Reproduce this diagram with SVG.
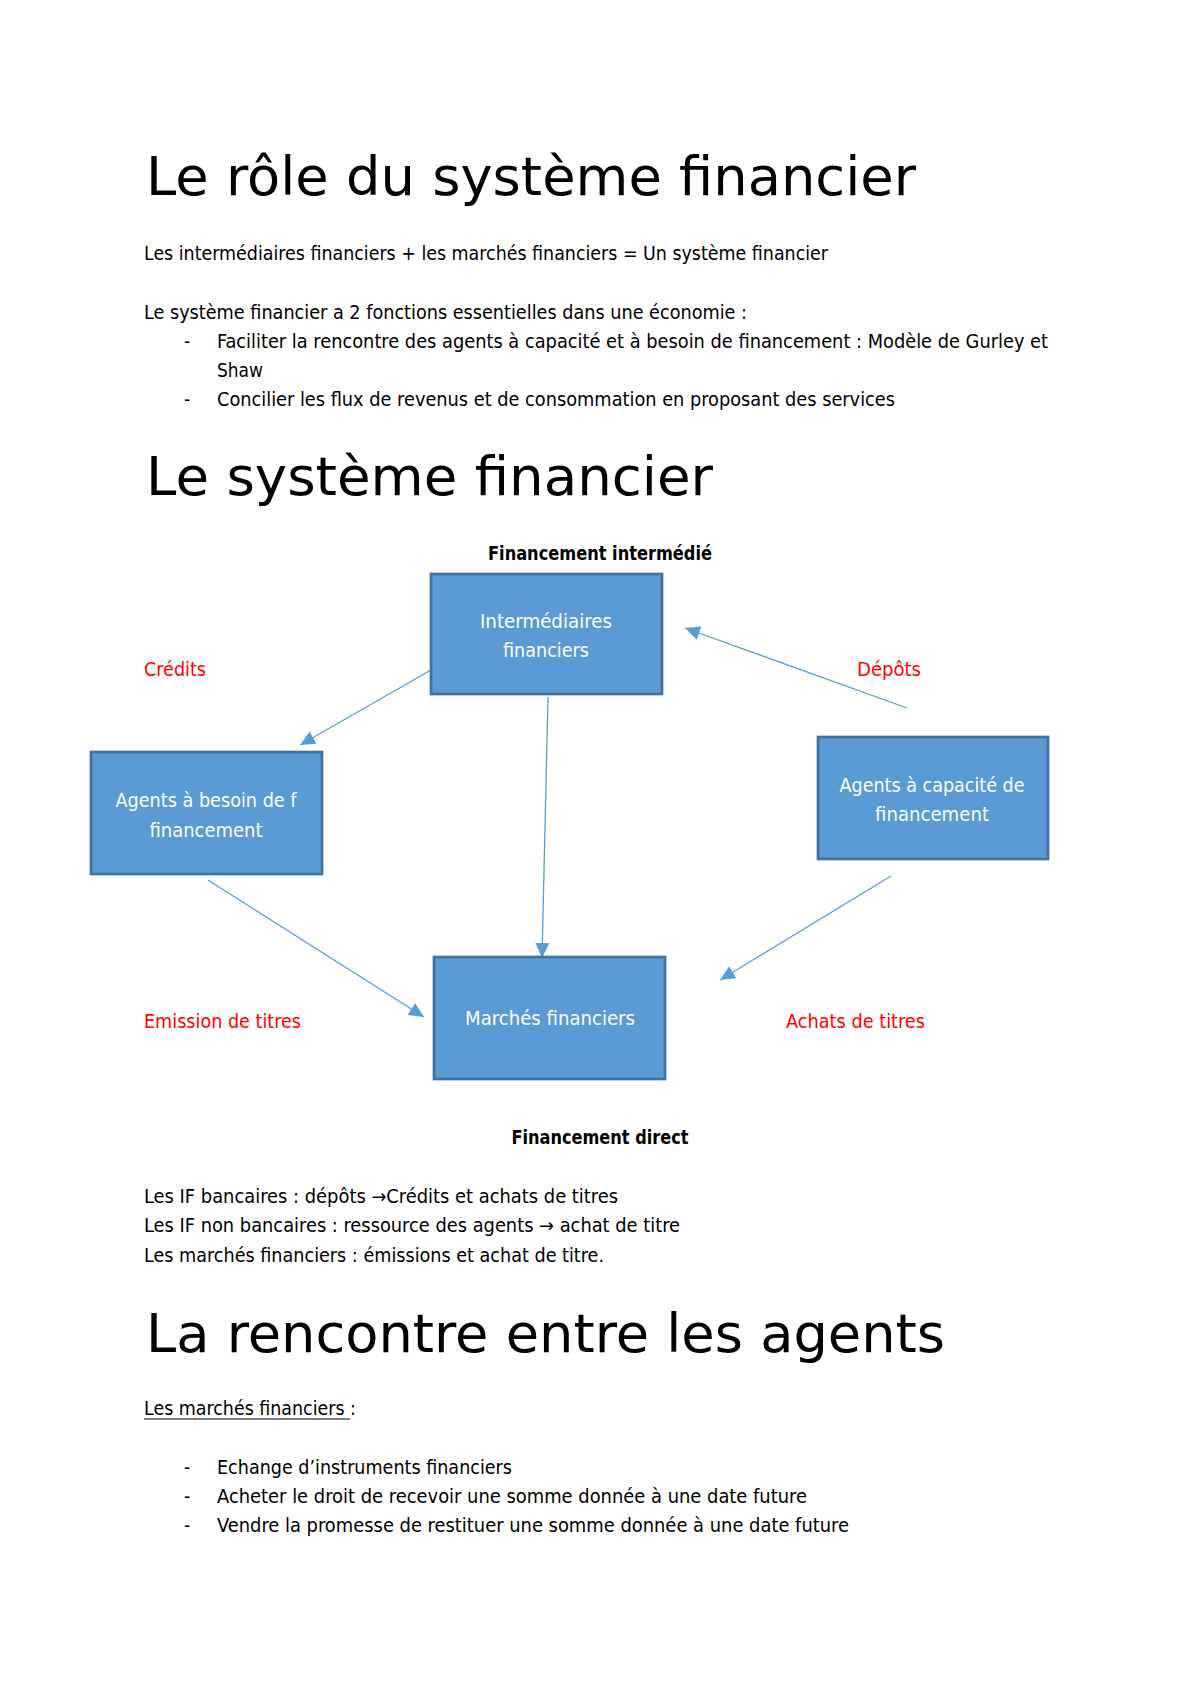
<svg xmlns="http://www.w3.org/2000/svg" width="1200" height="1698" viewBox="0 0 1200 1698">
<style>
.t{font-family:"DejaVu Sans",sans-serif;font-size:54px;fill:#000}
.b{font-family:"DejaVu Sans Condensed","DejaVu Sans",sans-serif;font-size:19px;fill:#000}
.bb{font-family:"DejaVu Sans Condensed","DejaVu Sans",sans-serif;font-size:19px;font-weight:bold;fill:#000}
.r{font-family:"DejaVu Sans Condensed","DejaVu Sans",sans-serif;font-size:19px;fill:#ff0000}
.w{font-family:"DejaVu Sans Condensed","DejaVu Sans",sans-serif;font-size:19px;fill:#ffffff}
.box{fill:#5b9bd5;stroke:#41719c;stroke-width:2.7}
.c{stroke:#5b9bd5;stroke-width:1.3;fill:none;marker-end:url(#ah)}
</style>
<defs>
<marker id="ah" markerUnits="userSpaceOnUse" markerWidth="18" markerHeight="16" refX="15" refY="7" orient="auto">
<path d="M0,0 L15,7 L0,14 Z" fill="#5b9bd5"/>
</marker>
</defs>
<rect width="1200" height="1698" fill="#ffffff"/>

<text class="t" x="146" y="195" textLength="770" lengthAdjust="spacingAndGlyphs">Le rôle du système financier</text>
<text class="b" x="144" y="260" textLength="684" lengthAdjust="spacingAndGlyphs">Les intermédiaires financiers + les marchés financiers = Un système financier</text>
<text class="b" x="144" y="319" textLength="603" lengthAdjust="spacingAndGlyphs">Le système financier a 2 fonctions essentielles dans une économie :</text>
<text class="b" x="184" y="348">-</text>
<text class="b" x="217" y="348" textLength="831" lengthAdjust="spacingAndGlyphs">Faciliter la rencontre des agents à capacité et à besoin de financement : Modèle de Gurley et</text>
<text class="b" x="217" y="377" textLength="46" lengthAdjust="spacingAndGlyphs">Shaw</text>
<text class="b" x="184" y="406">-</text>
<text class="b" x="217" y="406" textLength="678" lengthAdjust="spacingAndGlyphs">Concilier les flux de revenus et de consommation en proposant des services</text>

<text class="t" x="146" y="495" textLength="567" lengthAdjust="spacingAndGlyphs">Le système financier</text>

<text class="bb" x="600" y="560" text-anchor="middle" textLength="224" lengthAdjust="spacingAndGlyphs">Financement intermédié</text>
<text class="r" x="144" y="676" textLength="62" lengthAdjust="spacingAndGlyphs">Crédits</text>
<text class="r" x="857" y="676" textLength="64" lengthAdjust="spacingAndGlyphs">Dépôts</text>
<text class="r" x="144" y="1028" textLength="157" lengthAdjust="spacingAndGlyphs">Emission de titres</text>
<text class="r" x="786" y="1028" textLength="139" lengthAdjust="spacingAndGlyphs">Achats de titres</text>
<text class="bb" x="600" y="1144" text-anchor="middle" textLength="177" lengthAdjust="spacingAndGlyphs">Financement direct</text>

<g id="connectors">
<line class="c" x1="431" y1="670" x2="300" y2="745"/>
<line class="c" x1="907" y1="708" x2="685" y2="628"/>
<line class="c" x1="548" y1="697" x2="542" y2="958"/>
<line class="c" x1="208" y1="880" x2="424" y2="1017"/>
<line class="c" x1="891" y1="876" x2="720" y2="980"/>
</g>

<g id="node-intermediaires">
<rect class="box" x="431" y="574" width="231" height="120"/>
<text class="w" x="546" y="628" text-anchor="middle" textLength="132" lengthAdjust="spacingAndGlyphs">Intermédiaires</text>
<text class="w" x="546" y="657" text-anchor="middle" textLength="86" lengthAdjust="spacingAndGlyphs">financiers</text>
</g>
<g id="node-besoin">
<rect class="box" x="91" y="752" width="231" height="122"/>
<text class="w" x="206" y="807" text-anchor="middle" textLength="181" lengthAdjust="spacingAndGlyphs">Agents à besoin de f</text>
<text class="w" x="206" y="837" text-anchor="middle" textLength="113" lengthAdjust="spacingAndGlyphs">financement</text>
</g>
<g id="node-capacite">
<rect class="box" x="818" y="737" width="230" height="122"/>
<text class="w" x="932" y="792" text-anchor="middle" textLength="185" lengthAdjust="spacingAndGlyphs">Agents à capacité de</text>
<text class="w" x="932" y="821" text-anchor="middle" textLength="114" lengthAdjust="spacingAndGlyphs">financement</text>
</g>
<g id="node-marches">
<rect class="box" x="434" y="957" width="231" height="122"/>
<text class="w" x="550" y="1025" text-anchor="middle" textLength="170" lengthAdjust="spacingAndGlyphs">Marchés financiers</text>
</g>

<text class="b" x="144" y="1203" textLength="474" lengthAdjust="spacingAndGlyphs">Les IF bancaires : dépôts →Crédits et achats de titres</text>
<text class="b" x="144" y="1232" textLength="536" lengthAdjust="spacingAndGlyphs">Les IF non bancaires : ressource des agents → achat de titre</text>
<text class="b" x="144" y="1262" textLength="460" lengthAdjust="spacingAndGlyphs">Les marchés financiers : émissions et achat de titre.</text>

<text class="t" x="146" y="1352" textLength="799" lengthAdjust="spacingAndGlyphs">La rencontre entre les agents</text>

<text class="b" x="144" y="1415" textLength="212" lengthAdjust="spacingAndGlyphs">Les marchés financiers :</text>
<line x1="144" y1="1419" x2="350" y2="1419" stroke="#000" stroke-width="1.2"/>
<text class="b" x="184" y="1474">-</text>
<text class="b" x="217" y="1474" textLength="295" lengthAdjust="spacingAndGlyphs">Echange d’instruments financiers</text>
<text class="b" x="184" y="1503">-</text>
<text class="b" x="217" y="1503" textLength="590" lengthAdjust="spacingAndGlyphs">Acheter le droit de recevoir une somme donnée à une date future</text>
<text class="b" x="184" y="1532">-</text>
<text class="b" x="217" y="1532" textLength="632" lengthAdjust="spacingAndGlyphs">Vendre la promesse de restituer une somme donnée à une date future</text>
</svg>
